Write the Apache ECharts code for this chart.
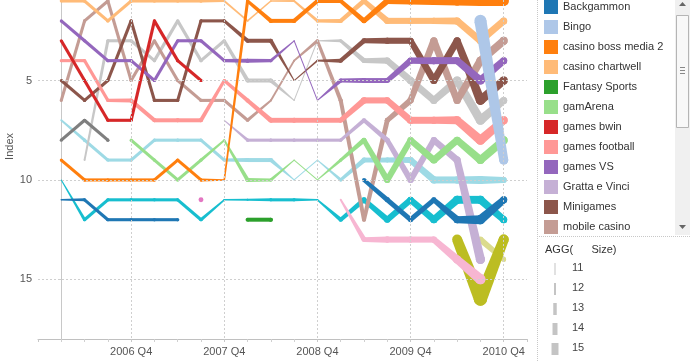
<!DOCTYPE html>
<html><head><meta charset="utf-8">
<script src="https://cdn.jsdelivr.net/npm/echarts@6/dist/echarts.min.js"></script>
<style>html,body{margin:0;padding:0;background:#fff}#c{width:691px;height:362px}</style>
</head><body><div id="c"></div><script>
const _ = null;
const quarters = ['2006 Q1','2006 Q2','2006 Q3','2006 Q4','2007 Q1','2007 Q2','2007 Q3','2007 Q4',
  '2008 Q1','2008 Q2','2008 Q3','2008 Q4','2009 Q1','2009 Q2','2009 Q3','2009 Q4',
  '2010 Q1','2010 Q2','2010 Q3','2010 Q4'];
const names = ['Backgammon','Bingo','casino boss media 2','casino chartwell','Fantasy Sports','gamArena',
  'games bwin','games football','games VS','Gratta e Vinci','Minigames','mobile casino',
  'mobile games','mobile poker','online bingo','online casino','poker','poker club','scommesse','slot'];
const indexTicks = [5, 10, 15];
const sizeTicks = [11, 12, 13, 14, 15];

// Index per quarter
const backgammon   = [11,11,12,12,12,12,_,_,_,_,_,_,_,10,11,12,11,12,12,11];
const bingo        = [_,_,_,_,_,_,_,_,_,_,_,_,_,_,_,_,_,_,2,9];
const casinoBoss   = [9,10,10,10,10,9,10,10,1,2,2,1,1,2,1,1,1,1,1,1];
const chartwell    = [1,1,2,1,1,1,1,1,2,1,1,2,2,1,2,2,2,2,3,2];
const fantasy      = [_,_,_,_,_,_,_,_,12,12,_,_,_,_,_,_,_,_,_,_];
const gamArena     = [_,_,_,8,9,10,9,8,10,10,9,10,9,8,10,8,9,8,9,8];
const gamesBwin    = [3,5,7,7,2,4,5,_,_,_,_,_,_,_,_,_,_,_,_,_];
const gamesFootball= [4,4,6,6,7,7,7,5,6,7,7,7,7,6,6,7,7,7,8,7];
const gamesVS      = [2,3,4,4,5,3,3,4,4,4,3,6,5,5,5,4,4,4,5,4];
const gratta       = [_,_,_,_,_,_,_,7,8,8,8,8,8,7,8,10,8,9,14,_];
const minigames    = [5,6,5,2,6,6,2,2,3,3,5,4,4,3,3,3,5,3,6,5];
const mobileCasino = [6,2,1,5,3,5,6,6,7,6,4,3,6,12,7,6,3,6,4,3];
const s13 = [_,_,_,_,_,_,11,_,_,_,_,_,_,_,_,_,_,_,_,_];
const s14 = [_,_,_,_,_,_,_,_,_,_,_,_,11,13,13,13,13,14,15,_];
const s15 = [8,7,8,_,_,_,_,_,_,_,_,_,_,_,_,_,_,_,_,_];
const s16 = [_,9,3,3,4,2,4,3,5,5,6,3,3,4,4,5,6,5,7,6];
const s17 = [_,_,_,_,_,_,_,_,_,_,_,_,_,_,_,_,_,13,16,13];
const s18 = [_,_,_,_,_,_,_,_,_,_,_,_,_,_,_,_,_,_,13,14];
const s19 = [10,12,11,11,11,11,12,11,11,11,11,11,12,11,12,11,12,11,11,12];
const s20 = [7,8,9,9,8,8,8,9,9,9,10,9,10,9,9,9,10,10,10,10];

// AGG(Size) per quarter
const zBackgammon = [11.2,11.7,11.7,11.7,11.7,11.7,_,_,_,_,_,_,_,12,12.3,12.3,12.3,13,13.7,13];
const zBingo      = [_,_,_,_,_,_,_,_,_,_,_,_,_,_,_,_,_,_,14.7,13.7];
const zCasinoBoss = [11.7,11.7,11.7,11.7,11.7,11.7,11.7,11.2,11.7,12,12,12,12,12.3,12.7,13,13.3,13.7,14,14];
const zChartwell  = [11.7,11.7,11.7,11.7,11.7,11.7,11.7,11.3,11.2,11.2,11.3,11.7,12,12.3,12.7,12.7,12.7,13,13,13];
const zFantasy    = [_,_,_,_,_,_,_,_,12,12,_,_,_,_,_,_,_,_,_,_];
const zGamArena   = [_,_,_,11.7,11.7,11.7,11.7,11.3,12,11.7,11,11,11.7,12.3,12.7,12.7,13,13,13.3,13.3];
const zGamesBwin  = [11.7,11.7,11.7,11.7,11.7,11.7,11.7,_,_,_,_,_,_,_,_,_,_,_,_,_];
const zFootball   = [11.7,11.7,11.7,12,12,12,12,11.7,12,12.3,12.3,12.3,12.3,12.7,12.7,13,13,13.3,13.7,13.3];
const zGamesVS    = [11.7,11.7,11.7,11.7,11.7,11.7,11.7,11.7,12,11.7,11,11,12,12.3,12.3,12.7,13,13,13.3,13];
const zGratta     = [_,_,_,_,_,_,_,11,11.7,11.7,11.7,11.7,11.7,12,12.3,12.7,12.7,13,13.7,_];
const zMinigames  = [11.7,11.7,11.7,11.7,11.7,11.7,11.7,11.7,12,12,11,11.3,12,12.3,12.7,12.7,13,13,13.7,13.3];
const zMobile     = [11.7,11.7,11.7,11.7,11.7,11.7,11.7,11.7,11.7,11.3,11.3,11.7,12,12,12.3,12.7,13,13,13.3,13.3];
const z13 = [_,_,_,_,_,_,12.3,_,_,_,_,_,_,_,_,_,_,_,_,_];
const z14 = [_,_,_,_,_,_,_,_,_,_,_,_,11.3,12.3,12.7,12.7,12.7,13.3,14,_];
const z15 = [11.7,11.7,11.7,_,_,_,_,_,_,_,_,_,_,_,_,_,_,_,_,_];
const z16 = [_,11.3,11.7,11.7,11.7,11.7,11.7,11.7,12,12,11,11,11.7,12.3,12.7,13,13,13.3,13.7,13];
const z17 = [_,_,_,_,_,_,_,_,_,_,_,_,_,_,_,_,_,14,15,14];
const z18 = [_,_,_,_,_,_,_,_,_,_,_,_,_,_,_,_,_,_,12.7,12.3];
const z19 = [11,11.7,11.7,11.7,11.7,11.7,11.7,11.2,11.3,11.7,11.7,11.2,12,12.3,12.7,12.7,13,13.3,13.3,13];
const z20 = [11.3,11.7,11.7,11.7,11.7,11.7,11.7,11.7,12,12,11,11,11.7,12.3,12.3,12.7,13,13,13.3,12.7];

const valueSets = [backgammon,bingo,casinoBoss,chartwell,fantasy,gamArena,gamesBwin,gamesFootball,gamesVS,gratta,
  minigames,mobileCasino,s13,s14,s15,s16,s17,s18,s19,s20];
const sizeSets = [zBackgammon,zBingo,zCasinoBoss,zChartwell,zFantasy,zGamArena,zGamesBwin,zFootball,zGamesVS,zGratta,
  zMinigames,zMobile,z13,z14,z15,z16,z17,z18,z19,z20];
const palette = ['#1f77b4','#aec7e8','#ff7f0e','#ffbb78','#2ca02c','#98df8a','#d62728','#ff9896','#9467bd','#c5b0d5',
  '#8c564b','#c49c94','#e377c2','#f7b6d2','#7f7f7f','#c7c7c7','#bcbd22','#dbdb8d','#17becf','#9edae5'];

function widthOf(s){ return 1 + (s - 11) * 3; }
function segments(vals, sizes){
  const out = [];
  for (let i = 0; i < vals.length; i++) {
    if (vals[i] == null) continue;
    const j = (i + 1 < vals.length && vals[i+1] != null) ? i + 1 : i;
    out.push([i, vals[i], sizes[i], j, vals[j], sizes[j]]);
  }
  return out;
}
function renderSeg(params, api){
  const p0 = api.coord([api.value(0), api.value(1)]);
  const p1 = api.coord([api.value(3), api.value(4)]);
  const w0 = widthOf(api.value(2)), w1 = widthOf(api.value(5));
  const color = api.visual('color');
  const ch = [{type:'circle', shape:{cx:p0[0], cy:p0[1], r:w0/2}, style:{fill:color}}];
  const dx = p1[0]-p0[0], dy = p1[1]-p0[1], len = Math.hypot(dx, dy);
  if (len > 0) {
    const nx = -dy/len, ny = dx/len;
    ch.push({type:'polygon', shape:{points:[
      [p0[0]+nx*w0/2, p0[1]+ny*w0/2],[p1[0]+nx*w1/2, p1[1]+ny*w1/2],
      [p1[0]-nx*w1/2, p1[1]-ny*w1/2],[p0[0]-nx*w0/2, p0[1]-ny*w0/2]]}, style:{fill:color}});
    ch.push({type:'circle', shape:{cx:p1[0], cy:p1[1], r:w1/2}, style:{fill:color}});
  }
  return {type:'group', children: ch};
}

const gridStyle = {color:'#cfcfcf', type:[2,2], width:1};
const series = [];
series.push({type:'line', data:[], silent:true,
  markLine:{silent:true, symbol:['none','none'], label:{show:false}, lineStyle:gridStyle,
    data: quarters.map((q,i)=>q.endsWith('Q4') ? {xAxis:i} : null).filter(d=>d)
      .concat(indexTicks.map(v=>({yAxis:v})))}});
for (let k = names.length - 1; k >= 0; k--) {
  series.push({type:'custom', name:names[k], renderItem:renderSeg,
    itemStyle:{color:palette[k]}, encode:{x:[0,3], y:[1,4]},
    data: segments(valueSets[k], sizeSets[k])});
}

const FONT = 'Liberation Sans, Arial, sans-serif';
const chart = echarts.init(document.getElementById('c'), null, {renderer:'canvas'});
const gfx = [
  {type:'text', left:4, top:133, rotation:Math.PI/2, style:{text:'Index', fill:'#555', font:'11px '+FONT}},
  {type:'line', shape:{x1:537.5,y1:0,x2:537.5,y2:362}, style:{stroke:'#c8c8c8', lineDash:[1,1], lineWidth:1}},
  {type:'line', shape:{x1:537,y1:236.5,x2:691,y2:236.5}, style:{stroke:'#c8c8c8', lineDash:[1,1], lineWidth:1}},
  {type:'rect', shape:{x:675,y:0,width:15,height:235}, style:{fill:'#f0f0f0'}},
  {type:'rect', shape:{x:676.5,y:15.5,width:12,height:112}, style:{fill:'#f8f8f8', stroke:'#b5b5b5'}},
  {type:'polygon', shape:{points:[[682.5,2],[679,6],[686,6]]}, style:{fill:'#666'}},
  {type:'polygon', shape:{points:[[682.5,229],[679,225],[686,225]]}, style:{fill:'#666'}},
  {type:'line', shape:{x1:680,y1:67.5,x2:685,y2:67.5}, style:{stroke:'#888'}},
  {type:'line', shape:{x1:680,y1:70.5,x2:685,y2:70.5}, style:{stroke:'#888'}},
  {type:'line', shape:{x1:680,y1:73.5,x2:685,y2:73.5}, style:{stroke:'#888'}},
  {type:'text', left:545, top:244, style:{text:'AGG(      Size)', fill:'#333', font:'11px '+FONT}}
];
const sizeMarkW = [1, 2, 3.5, 5, 7];
sizeTicks.forEach((t, i) => {
  const cy = 269 + i * 20;
  gfx.push({type:'rect', shape:{x:555 - sizeMarkW[i]/2, y:cy-6, width:sizeMarkW[i], height:12}, style:{fill:'#c4c4c4'}});
  gfx.push({type:'text', left:572, top:cy-7, style:{text:String(t), fill:'#444', font:'11px '+FONT}});
});

chart.setOption({
  animation:false,
  backgroundColor:'#fff',
  grid:{left:38, right:164, top:0, bottom:23},
  legend:{data:names.slice(0,12), orient:'vertical', left:544, top:0, padding:0, itemWidth:14, itemHeight:14, itemGap:6,
    icon:'rect', selectedMode:false, textStyle:{fontSize:11, color:'#333', fontFamily:FONT}},
  xAxis:{type:'value', min:-1, max:20, interval:4,
    axisLine:{lineStyle:{color:'#c0c0c0'}},
    axisTick:{show:true, length:3, lineStyle:{color:'#c8c8c8'}},
    minorTick:{show:true, splitNumber:4, length:3, lineStyle:{color:'#d0d0d0'}},
    splitLine:{show:false},
    axisLabel:{color:'#555', fontSize:11, fontFamily:FONT, margin:7,
      formatter:v => (v >= 0 && quarters[v] && quarters[v].endsWith('Q4')) ? quarters[v] : ''}},
  yAxis:{type:'value', inverse:true, min:0.95, max:18,
    axisLine:{show:true, lineStyle:{color:'#c8c8c8'}},
    axisTick:{show:true, length:3, customValues:indexTicks, lineStyle:{color:'#d0d0d0'}},
    splitLine:{show:false},
    axisLabel:{color:'#555', fontSize:11, fontFamily:FONT, margin:6, customValues:indexTicks}},
  graphic: gfx,
  series: series
});
</script></body></html>
